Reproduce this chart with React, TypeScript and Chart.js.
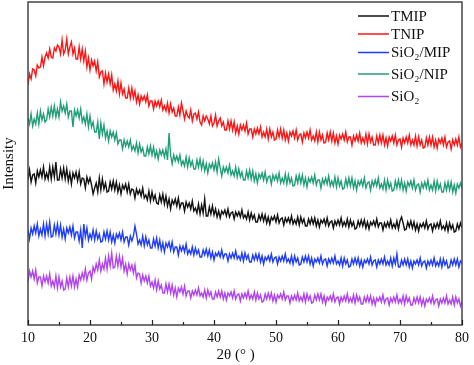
import React, { useEffect, useRef } from "react";
import { Chart, registerables } from "chart.js";

Chart.register(...registerables);

// 2θ sampling positions (degrees), one row per degree
const angles = [
  10, 10.25, 10.5, 10.75, 11, 11.25, 11.5, 11.75, 12, 12.25, 12.5, 12.75,
  13, 13.25, 13.5, 13.75, 14, 14.25, 14.5, 14.75, 15, 15.25, 15.5, 15.75,
  16, 16.25, 16.5, 16.75, 17, 17.25, 17.5, 17.75, 18, 18.25, 18.5, 18.75,
  19, 19.25, 19.5, 19.75, 20, 20.25, 20.5, 20.75, 21, 21.25, 21.5, 21.75,
  22, 22.25, 22.5, 22.75, 23, 23.25, 23.5, 23.75, 24, 24.25, 24.5, 24.75,
  25, 25.25, 25.5, 25.75, 26, 26.25, 26.5, 26.75, 27, 27.25, 27.5, 27.75,
  28, 28.25, 28.5, 28.75, 29, 29.25, 29.5, 29.75, 30, 30.25, 30.5, 30.75,
  31, 31.25, 31.5, 31.75, 32, 32.25, 32.5, 32.75, 33, 33.25, 33.5, 33.75,
  34, 34.25, 34.5, 34.75, 35, 35.25, 35.5, 35.75, 36, 36.25, 36.5, 36.75,
  37, 37.25, 37.5, 37.75, 38, 38.25, 38.5, 38.75, 39, 39.25, 39.5, 39.75,
  40, 40.25, 40.5, 40.75, 41, 41.25, 41.5, 41.75, 42, 42.25, 42.5, 42.75,
  43, 43.25, 43.5, 43.75, 44, 44.25, 44.5, 44.75, 45, 45.25, 45.5, 45.75,
  46, 46.25, 46.5, 46.75, 47, 47.25, 47.5, 47.75, 48, 48.25, 48.5, 48.75,
  49, 49.25, 49.5, 49.75, 50, 50.25, 50.5, 50.75, 51, 51.25, 51.5, 51.75,
  52, 52.25, 52.5, 52.75, 53, 53.25, 53.5, 53.75, 54, 54.25, 54.5, 54.75,
  55, 55.25, 55.5, 55.75, 56, 56.25, 56.5, 56.75, 57, 57.25, 57.5, 57.75,
  58, 58.25, 58.5, 58.75, 59, 59.25, 59.5, 59.75, 60, 60.25, 60.5, 60.75,
  61, 61.25, 61.5, 61.75, 62, 62.25, 62.5, 62.75, 63, 63.25, 63.5, 63.75,
  64, 64.25, 64.5, 64.75, 65, 65.25, 65.5, 65.75, 66, 66.25, 66.5, 66.75,
  67, 67.25, 67.5, 67.75, 68, 68.25, 68.5, 68.75, 69, 69.25, 69.5, 69.75,
  70, 70.25, 70.5, 70.75, 71, 71.25, 71.5, 71.75, 72, 72.25, 72.5, 72.75,
  73, 73.25, 73.5, 73.75, 74, 74.25, 74.5, 74.75, 75, 75.25, 75.5, 75.75,
  76, 76.25, 76.5, 76.75, 77, 77.25, 77.5, 77.75, 78, 78.25, 78.5, 78.75,
  79, 79.25, 79.5, 79.75, 80,
];

const tnip = [
  240, 251, 246, 256, 255, 249, 260, 257, 258, 268, 259, 268,
  272, 267, 276, 268, 267, 277, 274, 280, 278, 271, 285, 271,
  275, 286, 271, 278, 283, 271, 277, 266, 266, 278, 266, 276,
  264, 274, 258, 267, 255, 265, 259, 264, 254, 263, 248, 253,
  254, 241, 252, 243, 251, 241, 250, 235, 241, 234, 244, 231,
  242, 231, 236, 227, 227, 237, 227, 237, 227, 234, 223, 230,
  221, 229, 225, 229, 223, 230, 219, 224, 224, 216, 224, 219,
  224, 218, 225, 215, 219, 214, 222, 212, 221, 213, 217, 209,
  209, 218, 210, 222, 214, 206, 214, 209, 207, 215, 204, 211,
  212, 206, 213, 203, 200, 209, 204, 209, 206, 201, 209, 199,
  202, 210, 199, 204, 207, 199, 203, 195, 195, 204, 196, 204,
  195, 203, 192, 199, 191, 200, 195, 200, 194, 202, 191, 196,
  196, 188, 196, 191, 197, 191, 198, 188, 193, 188, 196, 186,
  196, 188, 193, 185, 186, 195, 188, 196, 187, 195, 185, 192,
  184, 193, 189, 194, 187, 195, 185, 190, 191, 183, 192, 187,
  193, 187, 195, 185, 189, 184, 193, 183, 193, 185, 190, 182,
  183, 192, 185, 193, 184, 192, 182, 189, 181, 190, 186, 191,
  185, 193, 183, 188, 188, 180, 189, 184, 190, 184, 192, 182,
  187, 182, 191, 181, 191, 183, 188, 180, 180, 189, 182, 190,
  182, 190, 180, 187, 179, 188, 184, 189, 182, 190, 180, 185,
  186, 178, 187, 182, 188, 182, 190, 180, 185, 180, 189, 179,
  188, 180, 185, 177, 178, 187, 180, 188, 180, 188, 178, 185,
  177, 186, 182, 187, 180, 188, 178, 183, 184, 176, 185, 180,
  186, 180, 188, 178, 182,
];

const sio2Nip = [
  207, 201, 211, 199, 206, 201, 212, 201, 214, 205, 211, 203,
  205, 216, 208, 218, 209, 219, 208, 216, 208, 223, 214, 219,
  212, 221, 208, 214, 214, 198, 215, 209, 215, 207, 216, 203,
  208, 201, 211, 198, 209, 198, 203, 193, 193, 203, 186, 202,
  191, 200, 187, 194, 184, 194, 188, 193, 185, 192, 181, 185,
  185, 176, 185, 179, 184, 178, 185, 175, 179, 174, 182, 172,
  181, 173, 177, 169, 169, 178, 171, 179, 170, 178, 168, 174,
  166, 175, 170, 175, 168, 176, 165, 192, 170, 161, 170, 164,
  169, 163, 170, 160, 164, 159, 168, 158, 167, 159, 164, 156,
  156, 165, 158, 166, 156, 164, 154, 161, 152, 161, 157, 162,
  155, 163, 153, 166, 157, 149, 158, 153, 158, 152, 160, 150,
  154, 149, 158, 148, 156, 148, 153, 145, 145, 154, 147, 155,
  146, 154, 144, 151, 142, 151, 147, 152, 145, 153, 143, 148,
  149, 141, 150, 145, 150, 144, 152, 142, 147, 142, 151, 141,
  150, 142, 147, 139, 140, 149, 142, 150, 142, 150, 140, 147,
  138, 147, 143, 148, 142, 150, 140, 145, 145, 137, 146, 141,
  147, 141, 149, 139, 144, 139, 148, 138, 147, 139, 144, 136,
  137, 146, 139, 147, 139, 147, 137, 144, 135, 144, 140, 145,
  139, 147, 137, 142, 143, 135, 144, 139, 145, 139, 147, 137,
  141, 136, 145, 135, 145, 137, 142, 134, 135, 144, 137, 145,
  137, 145, 135, 142, 134, 143, 139, 144, 137, 145, 135, 140,
  141, 133, 142, 137, 143, 137, 145, 135, 140, 135, 144, 134,
  144, 136, 141, 133, 133, 142, 135, 143, 135, 143, 133, 140,
  132, 141, 137, 142, 137,
];

const tmip = [
  145, 155, 143, 150, 151, 142, 154, 148, 155, 148, 158, 146,
  152, 146, 158, 146, 158, 148, 163, 145, 145, 156, 147, 157,
  146, 156, 144, 152, 141, 152, 147, 153, 144, 153, 141, 147,
  146, 137, 148, 142, 147, 140, 131, 137, 142, 133, 147, 135,
  146, 136, 142, 133, 134, 143, 136, 144, 135, 143, 133, 140,
  131, 140, 136, 141, 133, 141, 131, 136, 135, 127, 136, 131,
  135, 129, 137, 127, 130, 125, 134, 124, 133, 125, 130, 122,
  121, 130, 123, 131, 121, 129, 119, 126, 116, 125, 121, 126,
  119, 127, 117, 122, 122, 114, 123, 118, 122, 116, 124, 114,
  117, 112, 121, 111, 120, 112, 126, 109, 109, 118, 111, 119,
  110, 116, 108, 114, 107, 114, 111, 115, 109, 116, 108, 112,
  113, 106, 113, 109, 113, 108, 115, 107, 110, 106, 113, 105,
  112, 106, 110, 103, 103, 110, 105, 111, 104, 110, 102, 108,
  101, 108, 105, 109, 103, 110, 102, 106, 107, 100, 107, 103,
  107, 102, 109, 101, 105, 101, 108, 100, 108, 102, 106, 99,
  99, 106, 101, 107, 101, 107, 99, 105, 98, 105, 102, 106,
  100, 107, 99, 103, 104, 97, 104, 100, 105, 100, 107, 99,
  103, 99, 106, 98, 105, 99, 103, 96, 97, 104, 99, 105,
  99, 105, 97, 103, 96, 103, 100, 104, 99, 106, 98, 102,
  102, 95, 102, 98, 103, 98, 105, 97, 101, 97, 104, 96,
  104, 108, 102, 95, 96, 103, 98, 104, 97, 103, 95, 101,
  94, 101, 98, 102, 97, 104, 96, 100, 101, 94, 101, 97,
  102, 97, 104, 96, 99, 95, 102, 94, 102, 96, 100, 93,
  94, 101, 96, 102, 97,
];

const sio2Mip = [
  95, 86, 97, 91, 99, 92, 101, 89, 96, 90, 101, 89,
  101, 91, 103, 88, 89, 100, 91, 101, 90, 100, 88, 96,
  86, 97, 92, 98, 90, 99, 87, 93, 93, 84, 95, 77,
  101, 88, 97, 85, 91, 86, 95, 85, 94, 86, 91, 83,
  84, 93, 86, 94, 85, 93, 83, 90, 82, 91, 87, 92,
  85, 93, 83, 88, 88, 80, 89, 84, 89, 99, 91, 81,
  85, 80, 89, 79, 88, 80, 85, 77, 77, 86, 79, 87,
  77, 85, 75, 82, 73, 82, 78, 83, 75, 83, 73, 78,
  78, 70, 79, 74, 79, 73, 81, 71, 75, 71, 78, 70,
  77, 71, 75, 68, 68, 75, 70, 76, 69, 75, 67, 73,
  65, 72, 69, 73, 68, 75, 67, 71, 71, 64, 71, 67,
  72, 67, 74, 66, 69, 65, 72, 64, 72, 66, 70, 63,
  63, 70, 65, 71, 65, 71, 63, 69, 61, 68, 65, 69,
  64, 71, 63, 67, 68, 61, 68, 64, 69, 64, 71, 63,
  66, 62, 69, 61, 69, 63, 67, 60, 61, 68, 63, 69,
  63, 69, 61, 67, 59, 66, 63, 67, 62, 69, 61, 65,
  66, 59, 66, 62, 67, 62, 69, 61, 64, 60, 67, 59,
  67, 61, 65, 58, 59, 66, 61, 67, 61, 67, 59, 65,
  58, 65, 62, 66, 61, 68, 60, 64, 65, 58, 65, 61,
  66, 61, 68, 60, 64, 60, 67, 59, 67, 61, 71, 58,
  58, 65, 60, 66, 60, 66, 58, 64, 57, 64, 61, 65,
  60, 67, 59, 63, 64, 57, 64, 60, 65, 60, 67, 59,
  63, 59, 66, 58, 66, 60, 64, 57, 58, 65, 60, 66,
  60, 66, 58, 64, 62,
];

const sio2 = [
  43, 54, 48, 54, 46, 55, 42, 48, 48, 39, 49, 43,
  49, 42, 51, 39, 44, 38, 49, 37, 48, 38, 44, 35,
  36, 47, 38, 48, 39, 49, 38, 46, 38, 50, 45, 52,
  46, 56, 45, 52, 54, 46, 58, 53, 61, 55, 65, 54,
  61, 56, 67, 56, 69, 59, 72, 57, 58, 69, 59, 69,
  58, 67, 54, 61, 51, 61, 55, 60, 52, 60, 47, 52,
  51, 42, 50, 44, 49, 42, 49, 39, 43, 37, 45, 35,
  44, 36, 40, 32, 32, 41, 33, 41, 32, 40, 30, 37,
  28, 37, 33, 38, 31, 39, 29, 34, 34, 27, 34, 30,
  35, 30, 37, 29, 32, 28, 35, 27, 35, 29, 33, 26,
  26, 33, 28, 34, 28, 34, 26, 32, 25, 32, 29, 33,
  27, 34, 26, 30, 31, 24, 31, 27, 32, 27, 34, 26,
  30, 26, 33, 25, 32, 26, 30, 23, 24, 31, 26, 32,
  26, 32, 24, 30, 23, 30, 27, 31, 26, 33, 25, 29,
  29, 22, 29, 25, 30, 25, 32, 24, 28, 24, 31, 23,
  31, 25, 29, 22, 23, 30, 25, 31, 25, 31, 23, 29,
  21, 28, 25, 29, 24, 31, 23, 27, 28, 21, 28, 24,
  29, 24, 31, 23, 27, 23, 30, 22, 30, 24, 28, 21,
  21, 28, 23, 29, 23, 29, 21, 27, 20, 27, 24, 28,
  23, 30, 22, 26, 27, 20, 27, 23, 28, 23, 30, 22,
  26, 22, 29, 21, 29, 23, 27, 20, 20, 27, 22, 28,
  22, 28, 20, 26, 19, 26, 23, 27, 22, 29, 21, 25,
  26, 19, 26, 22, 27, 22, 29, 21, 25, 21, 28, 20,
  28, 22, 26, 19, 23,
];

const seriesNames = ["TMIP", "TNIP", "SiO\u2082/MIP", "SiO\u2082/NIP", "SiO\u2082"];
const seriesValues = [tmip, tnip, sio2Mip, sio2Nip, sio2];
const seriesColors = ["#111111", "#ff1414", "#1e3cff", "#1f9e78", "#b043f2"];

const majorTicks = [10, 20, 30, 40, 50, 60, 70, 80];
const minorTicks = [15, 25, 35, 45, 55, 65, 75];

const FONT = "'Liberation Serif', 'Times New Roman', serif";

const decorPlugin = {
  id: "decor",
  afterDraw(chart: any) {
    const { ctx, chartArea: a, scales } = chart;
    const xs = scales.x;
    ctx.save();
    ctx.strokeStyle = "#444";
    ctx.lineWidth = 1.5;
    ctx.strokeRect(a.left, a.top, a.right - a.left, a.bottom - a.top);
    ctx.lineWidth = 1.2;
    ctx.strokeStyle = "#222";
    ctx.beginPath();
    majorTicks.forEach((v) => {
      const px = Math.round(xs.getPixelForValue(v)) + 0.5;
      ctx.moveTo(px, a.bottom);
      ctx.lineTo(px, a.bottom - 5);
    });
    minorTicks.forEach((v) => {
      const px = Math.round(xs.getPixelForValue(v)) + 0.5;
      ctx.moveTo(px, a.bottom);
      ctx.lineTo(px, a.bottom - 3);
    });
    ctx.stroke();
    const ys = [16, 34, 52.5, 74, 96.5];
    ctx.font = "15px " + FONT;
    ctx.textBaseline = "middle";
    ctx.textAlign = "left";
    seriesNames.forEach((name, i) => {
      ctx.strokeStyle = seriesColors[i];
      ctx.lineWidth = 1.5;
      ctx.beginPath();
      ctx.moveTo(358, ys[i]);
      ctx.lineTo(389, ys[i]);
      ctx.stroke();
      ctx.fillStyle = "#111";
      ctx.fillText(name, 391, ys[i] + 1);
    });
    ctx.restore();
  },
};

export default function App() {
  const ref = useRef<HTMLCanvasElement | null>(null);
  useEffect(() => {
    document.body.style.margin = "0";
    const canvas = ref.current;
    if (!canvas) return;
    const chart = new Chart(canvas, {
      type: "line",
      data: {
        datasets: seriesNames.map((name, i) => ({
          label: name,
          data: seriesValues[i].map((v, j) => ({ x: angles[j], y: v })),
          borderColor: seriesColors[i],
          backgroundColor: seriesColors[i],
          borderWidth: 1.4,
          pointRadius: 0,
          tension: 0,
          fill: false,
        })),
      },
      options: {
        responsive: false,
        animation: false,
        layout: { padding: { left: 0, right: 9, top: 2, bottom: 0 } },
        plugins: {
          legend: { display: false },
          tooltip: { enabled: false },
        },
        scales: {
          x: {
            type: "linear",
            min: 10,
            max: 80,
            afterFit: (s: any) => {
              s.height = 40;
            },
            afterBuildTicks: (s: any) => {
              s.ticks = majorTicks.map((v) => ({ value: v }));
            },
            grid: { display: false, drawTicks: false },
            border: { display: false },
            ticks: {
              color: "#111",
              padding: 5,
              maxRotation: 0,
              autoSkip: false,
              font: { family: FONT, size: 14 },
            },
            title: {
              display: true,
              text: "2\u03b8 (\u00b0 )     ",
              color: "#111",
              padding: { top: 0, bottom: 1 },
              font: { family: FONT, size: 15 },
            },
          },
          y: {
            min: 0,
            max: 323,
            afterFit: (s: any) => {
              s.width = 28;
            },
            grid: { display: false, drawTicks: false },
            border: { display: false },
            ticks: { display: false },
            title: {
              display: true,
              text: "Intensity",
              color: "#111",
              padding: { top: 0, bottom: 0 },
              font: { family: FONT, size: 15 },
            },
          },
        },
      },
      plugins: [decorPlugin],
    });
    return () => chart.destroy();
  }, []);
  return (
    <canvas
      ref={ref}
      width={474}
      height={365}
      style={{ position: "absolute", left: 0, top: 0, width: 474, height: 365 }}
    />
  );
}
